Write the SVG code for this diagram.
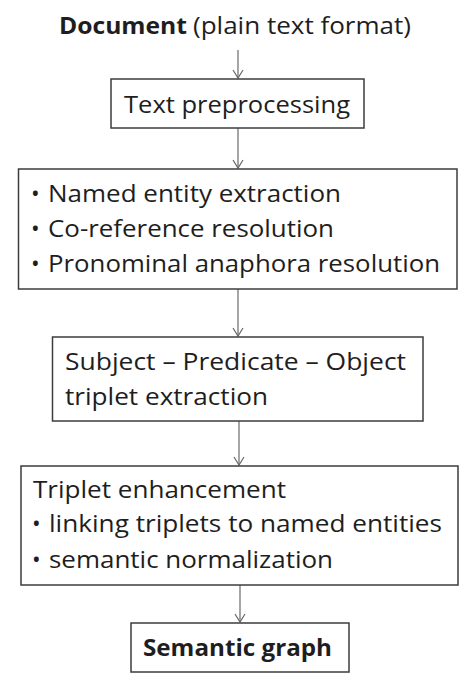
<svg xmlns="http://www.w3.org/2000/svg" width="474" height="683" viewBox="0 0 474 683">
<defs>
<style>
.t{font-family:"Open Sans","Noto Sans","Liberation Sans",sans-serif;font-size:23px;fill:#1e1e1e}
.b{font-weight:bold}
.box{fill:#fff;stroke:#3c3c3c;stroke-width:1.5}
.edge{stroke:#6a6a6a;stroke-width:1.2;fill:none}
</style>
<marker id="ah" markerWidth="12" markerHeight="12" refX="9" refY="6" orient="auto" markerUnits="userSpaceOnUse">
<path d="M1,1 L9,6 L1,11" fill="none" stroke="#6a6a6a" stroke-width="1.2"/>
</marker>
</defs>
<rect width="474" height="683" fill="#fff"/>
<g id="connectors">
<line class="edge" x1="238" y1="50" x2="238" y2="78" marker-end="url(#ah)"/>
<line class="edge" x1="238" y1="128" x2="238" y2="168" marker-end="url(#ah)"/>
<line class="edge" x1="238" y1="289" x2="238" y2="336" marker-end="url(#ah)"/>
<line class="edge" x1="239" y1="421" x2="239" y2="465" marker-end="url(#ah)"/>
<line class="edge" x1="240" y1="585" x2="240" y2="622" marker-end="url(#ah)"/>
</g>
<g id="document">
<text class="t b" x="59" y="34" textLength="128" lengthAdjust="spacingAndGlyphs">Document</text>
<text class="t" x="193" y="34" textLength="218" lengthAdjust="spacingAndGlyphs">(plain text format)</text>
</g>
<g id="preprocessing">
<rect class="box" x="111" y="79" width="253" height="49"/>
<text class="t" x="124" y="113" textLength="226" lengthAdjust="spacingAndGlyphs">Text preprocessing</text>
</g>
<g id="entities">
<rect class="box" x="18.5" y="169" width="438.5" height="120"/>
<text class="t" x="31" y="202">•</text>
<text class="t" x="48" y="202" textLength="293" lengthAdjust="spacingAndGlyphs">Named entity extraction</text>
<text class="t" x="31" y="237">•</text>
<text class="t" x="48" y="237" textLength="286" lengthAdjust="spacingAndGlyphs">Co-reference resolution</text>
<text class="t" x="31" y="272">•</text>
<text class="t" x="48" y="272" textLength="392" lengthAdjust="spacingAndGlyphs">Pronominal anaphora resolution</text>
</g>
<g id="triplets">
<rect class="box" x="52.5" y="337" width="370.5" height="84"/>
<text class="t" x="65" y="370" textLength="341" lengthAdjust="spacingAndGlyphs">Subject – Predicate – Object</text>
<text class="t" x="65" y="405" textLength="203" lengthAdjust="spacingAndGlyphs">triplet extraction</text>
</g>
<g id="enhancement">
<rect class="box" x="21" y="466" width="437" height="119"/>
<text class="t" x="33" y="498" textLength="253" lengthAdjust="spacingAndGlyphs">Triplet enhancement</text>
<text class="t" x="32" y="532">•</text>
<text class="t" x="49" y="532" textLength="393" lengthAdjust="spacingAndGlyphs">linking triplets to named entities</text>
<text class="t" x="32" y="568">•</text>
<text class="t" x="49" y="568" textLength="284" lengthAdjust="spacingAndGlyphs">semantic normalization</text>
</g>
<g id="graph">
<rect class="box" x="131" y="623" width="218" height="49"/>
<text class="t b" x="143" y="656" textLength="189" lengthAdjust="spacingAndGlyphs">Semantic graph</text>
</g>
</svg>
